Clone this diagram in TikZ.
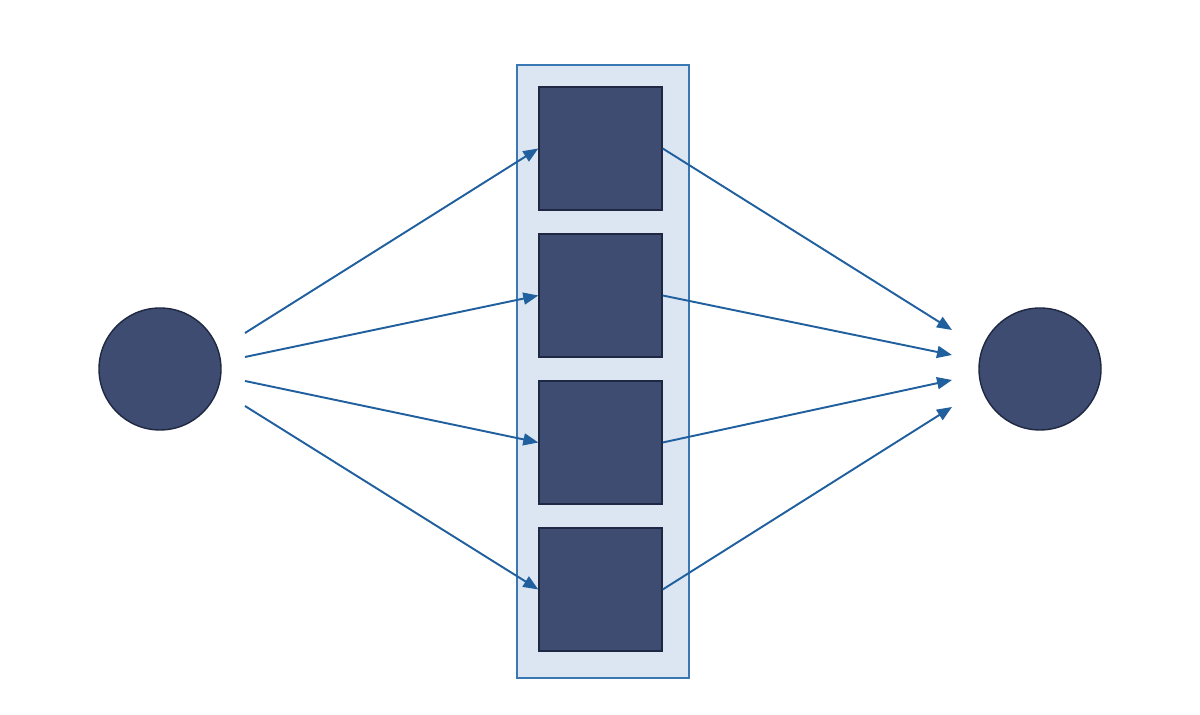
\documentclass[tikz,border=0pt]{standalone}
\usepackage{xcolor}
\usetikzlibrary{arrows.meta}
\definecolor{navy}{RGB}{63,76,114}
\definecolor{navyedge}{RGB}{30,40,66}
\definecolor{arrowblue}{RGB}{33,96,158}
\definecolor{panel}{RGB}{220,230,242}
\definecolor{paneledge}{RGB}{58,120,180}
\begin{document}
\begin{tikzpicture}[
  ball/.style={minimum size=24.4mm,draw=navyedge,fill=navy,circle,line width=0.8pt},
  cell/.style={minimum size=24.6mm,draw=navyedge,fill=navy,rectangle,line width=0.8pt,inner sep=0pt},
  column/.style={minimum width=34.4mm,minimum height=122.6mm,draw=paneledge,fill=panel,rectangle,line width=0.8pt,inner sep=0pt},
  flow/.style={arrowblue,line width=1.1pt,-{Triangle[length=3mm,width=2.4mm]}}]
\useasboundingbox (0,0) rectangle (24,14.3);
\draw (3.2,6.92) node[ball](src) {};
\draw (20.8,6.92) node[ball](dst) {};
\draw (12.06,6.87) node[column](stack) {};
\draw (12.01,11.33) node[cell](one) {};
\draw (12.01,8.39) node[cell](two) {};
\draw (12.01,5.45) node[cell](three) {};
\draw (12.01,2.51) node[cell](four) {};
\coordinate (out1) at (4.9,7.64);
\coordinate (out2) at (4.9,7.16);
\coordinate (out3) at (4.9,6.68);
\coordinate (out4) at (4.9,6.18);
\coordinate (in1) at (19.04,7.7);
\coordinate (in2) at (19.04,7.2);
\coordinate (in3) at (19.04,6.7);
\coordinate (in4) at (19.04,6.16);
\draw[flow] (out1) -- (one.west);
\draw[flow] (out2) -- (two.west);
\draw[flow] (out3) -- (three.west);
\draw[flow] (out4) -- (four.west);
\draw[flow] (one.east) -- (in1);
\draw[flow] (two.east) -- (in2);
\draw[flow] (three.east) -- (in3);
\draw[flow] (four.east) -- (in4);
\end{tikzpicture}
\end{document}
